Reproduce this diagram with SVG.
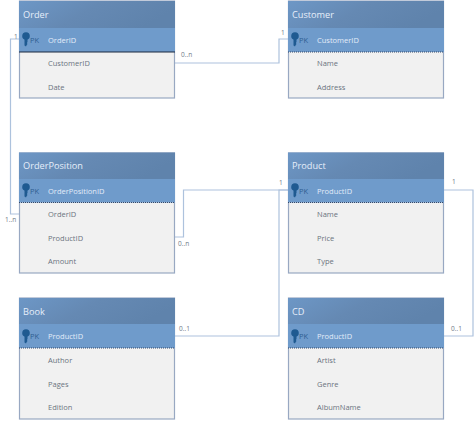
<svg xmlns="http://www.w3.org/2000/svg" width="474" height="424" viewBox="0 0 474 424">
<style>
text{font-family:"Open Sans","Liberation Sans",sans-serif;font-size:7.5px}
.box{fill:#f1f1f1;stroke:#98a8c2;stroke-width:1.2}
.head{fill:url(#hg)}
.pk{fill:#6f9bcb}
.sep{stroke:#33486a;stroke-width:1;stroke-dasharray:1 1}
.title{fill:#e6eefa;font-size:9.2px}
.pkt{fill:#e3ecf9}
.f{fill:#6b7480}
.pkl{fill:#2f5f92;font-size:7.5px}
.key{fill:#1f5a91}
.conn{fill:none;stroke:#adc2dd;stroke-width:1.2}
.lab{fill:#6f7a86;font-size:6.5px}
</style>
<defs>
<linearGradient id="hg" x1="0" y1="0" x2="1" y2="0.3">
<stop offset="0" stop-color="#6d97c6"/><stop offset="0.5" stop-color="#6589b3"/><stop offset="1" stop-color="#5f83ac"/>
</linearGradient>
<g id="k"><circle cx="26" cy="0" r="3.800" class="key"/><path class="key" d="M24.500 2h3v4l-.6 1 .6 1-.8 1-.7 1.500-1.500-1z"/></g>
</defs>
<g id="connectors">
<path class="conn" d="M19 39H10.500V214H19"/>
<path class="conn" d="M175 63H279V39H288"/>
<path class="conn" d="M175 237H183.500V190H288"/>
<path class="conn" d="M288 190H279V336H175"/>
<path class="conn" d="M443 190H473V336H443"/>
<text class="lab" x="14" y="39">1</text>
<text class="lab" x="181" y="57">0..n</text>
<text class="lab" x="281" y="35">1</text>
<text class="lab" x="5" y="222">1..n</text>
<text class="lab" x="178" y="246">0..n</text>
<text class="lab" x="279" y="185">1</text>
<text class="lab" x="452" y="184">1</text>
<text class="lab" x="179" y="331">0..1</text>
<text class="lab" x="451" y="331">0..1</text>
</g>
<g id="order">
<rect class="box" x="19.500" y="1" width="155" height="97"/>
<rect class="head" x="19" y="1" width="156" height="27"/>
<rect class="pk" x="19" y="28" width="156" height="24"/>
<line x1="19" y1="52" x2="175" y2="52" stroke="#1d2a40" stroke-width="1.200"/>
<use href="#k" y="36"/>
<text class="title" x="23" y="18">Order</text>
<text class="pkl" x="30" y="43">PK</text>
<text class="pkt" x="48" y="43">OrderID</text>
<text class="f" x="48" y="66">CustomerID</text>
<text class="f" x="48" y="90">Date</text>
</g>
<g id="customer">
<rect class="box" x="288.500" y="1" width="155" height="97"/>
<rect class="head" x="288" y="1" width="156" height="27"/>
<rect class="pk" x="288" y="28" width="156" height="24"/>
<line class="sep" x1="288" y1="52" x2="444" y2="52"/>
<use href="#k" x="269" y="36"/>
<text class="title" x="292" y="18">Customer</text>
<text class="pkl" x="299" y="43">PK</text>
<text class="pkt" x="317" y="43">CustomerID</text>
<text class="f" x="317" y="66">Name</text>
<text class="f" x="317" y="90">Address</text>
</g>
<g id="orderposition">
<rect class="box" x="19.500" y="153" width="155" height="120"/>
<rect class="head" x="19" y="152.500" width="156" height="26.500"/>
<rect class="pk" x="19" y="179" width="156" height="23.500"/>
<line class="sep" x1="19" y1="202.500" x2="175" y2="202.500"/>
<use href="#k" y="187"/>
<text class="title" x="23" y="169">OrderPosition</text>
<text class="pkl" x="30" y="194">PK</text>
<text class="pkt" x="48" y="194">OrderPositionID</text>
<text class="f" x="48" y="217">OrderID</text>
<text class="f" x="48" y="241">ProductID</text>
<text class="f" x="48" y="264">Amount</text>
</g>
<g id="product">
<rect class="box" x="288.500" y="153" width="155" height="120"/>
<rect class="head" x="288" y="152.500" width="156" height="26.500"/>
<rect class="pk" x="288" y="179" width="156" height="23.500"/>
<line class="sep" x1="288" y1="202.500" x2="444" y2="202.500"/>
<use href="#k" x="269" y="187"/>
<text class="title" x="292" y="169">Product</text>
<text class="pkl" x="299" y="194">PK</text>
<text class="pkt" x="317" y="194">ProductID</text>
<text class="f" x="317" y="217">Name</text>
<text class="f" x="317" y="241">Price</text>
<text class="f" x="317" y="264">Type</text>
</g>
<g id="book">
<rect class="box" x="19.500" y="298" width="155" height="121"/>
<rect class="head" x="19" y="298" width="156" height="26"/>
<rect class="pk" x="19" y="324" width="156" height="24"/>
<line class="sep" x1="19" y1="348" x2="175" y2="348"/>
<use href="#k" y="333"/>
<text class="title" x="23" y="315">Book</text>
<text class="pkl" x="30" y="339">PK</text>
<text class="pkt" x="48" y="339">ProductID</text>
<text class="f" x="48" y="363">Author</text>
<text class="f" x="48" y="387">Pages</text>
<text class="f" x="48" y="410">Edition</text>
</g>
<g id="cd">
<rect class="box" x="288.500" y="298" width="155" height="121"/>
<rect class="head" x="288" y="298" width="156" height="26"/>
<rect class="pk" x="288" y="324" width="156" height="24"/>
<line class="sep" x1="288" y1="348" x2="444" y2="348"/>
<use href="#k" x="269" y="333"/>
<text class="title" x="292" y="315">CD</text>
<text class="pkl" x="299" y="339">PK</text>
<text class="pkt" x="317" y="339">ProductID</text>
<text class="f" x="317" y="363">Artist</text>
<text class="f" x="317" y="387">Genre</text>
<text class="f" x="317" y="410">AlbumName</text>
</g>
</svg>
